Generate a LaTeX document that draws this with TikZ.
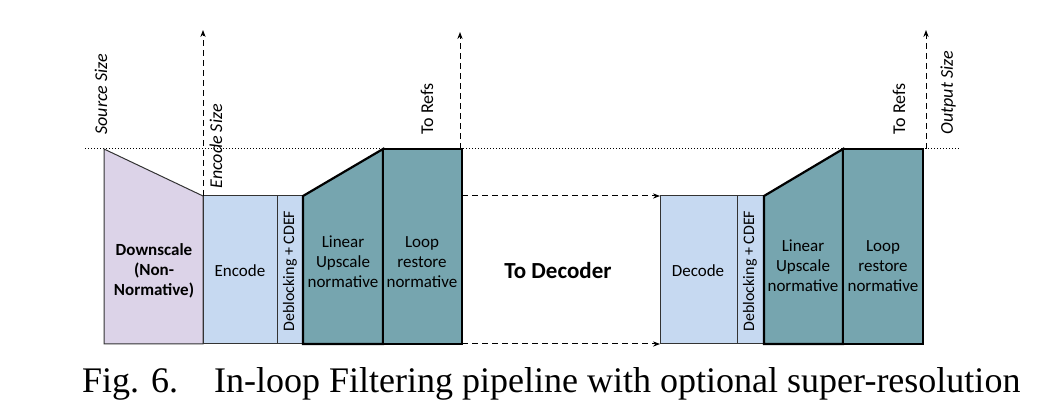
\documentclass[tikz,border=0pt]{standalone}
\usepackage{fontspec}
\setmainfont{Carlito}
\newfontfamily\capfont{Liberation Serif}
\usetikzlibrary{arrows.meta}
\definecolor{lav}{HTML}{DCD3E8}
\definecolor{lblue}{HTML}{C6D9F1}
\definecolor{teal2}{HTML}{76A5AF}
\begin{document}
\begin{tikzpicture}[x=1pt,y=-1pt,
  blk/.style={draw=black!80,line width=1pt},
  nblk/.style={draw=black,line width=2.2pt,fill=teal2},
  lab/.style={font=\fontsize{17}{20}\selectfont,align=center},
  vlab/.style={font=\fontsize{18}{20}\selectfont,rotate=90,anchor=west},
  dsh/.style={dash pattern=on 6pt off 4pt,line width=1pt,-{Stealth[length=7pt]}}]
\useasboundingbox (0,0) rectangle (1049,419);
\draw[dotted,line width=1pt] (85,149) -- (960,149);
% encoder side
\draw[blk,fill=lav] (104,149) -- (203,196) -- (203,344) -- (104,344) -- cycle;
\draw[blk,fill=lblue] (203,196) rectangle (277,344);
\draw[blk,fill=lblue] (277,196) rectangle (303,344);
\draw[nblk] (303,196) -- (383,149) -- (383,344) -- (303,344) -- cycle;
\draw[nblk] (383,149) rectangle (462,344);
\node[lab,font=\fontsize{17}{20}\selectfont\bfseries] (ds) at (154,271) {Downscale\\(Non-\\Normative)};
\node[lab] (enc) at (240,271) {Encode};
\node[font=\fontsize{16}{18}\selectfont,rotate=90] (db1) at (290,271) {Deblocking + CDEF};
\node[lab] (lu1) at (343,262) {Linear\\Upscale\\normative};
\node[lab] (lr1) at (422,262) {Loop\\restore\\normative};
% decoder side
\draw[blk,fill=lblue] (660,196) rectangle (737,344);
\draw[blk,fill=lblue] (737,196) rectangle (764,344);
\draw[nblk] (764,196) -- (843,149) -- (843,344) -- (764,344) -- cycle;
\draw[nblk] (843,149) rectangle (923,344);
\node[lab] (dec) at (698,271) {Decode};
\node[font=\fontsize{16}{18}\selectfont,rotate=90] (db2) at (750,271) {Deblocking + CDEF};
\node[lab] (lu2) at (803,266) {Linear\\Upscale\\normative};
\node[lab] (lr2) at (883,266) {Loop\\restore\\normative};
\node[font=\fontsize{23}{26}\selectfont\bfseries] (td) at (558,271) {To Decoder};
% arrows
\coordinate (e1) at (203,196); \coordinate (e2) at (203,30);
\coordinate (r1) at (460,149); \coordinate (r2) at (460,32);
\coordinate (o1) at (926,149); \coordinate (o2) at (926,30);
\coordinate (t1) at (462,196); \coordinate (t2) at (660,196);
\coordinate (b1) at (462,344); \coordinate (b2) at (660,344);
\draw[dsh] (e1) -- (e2);
\draw[dsh] (r1) -- (r2);
\draw[dsh] (o1) -- (o2);
\draw[dsh] (t1) -- (t2);
\draw[dsh] (b1) -- (b2);
% labels
\node[vlab,font=\fontsize{18}{20}\selectfont\itshape] (ss) at (101,138) {Source Size};
\node[vlab,font=\fontsize{18}{20}\selectfont\itshape] (es) at (216,192) {Encode Size};
\node[vlab] (tr1) at (427,138) {To Refs};
\node[vlab] (tr2) at (899,138) {To Refs};
\node[vlab,font=\fontsize{18}{20}\selectfont\itshape] (os) at (948,138) {Output Size};
\node[font=\capfont\fontsize{36}{40}\selectfont,anchor=west,inner sep=0pt] (cap) at (82,384) {Fig. 6.\quad In-loop Filtering pipeline with optional super-resolution};
\end{tikzpicture}
\end{document}
